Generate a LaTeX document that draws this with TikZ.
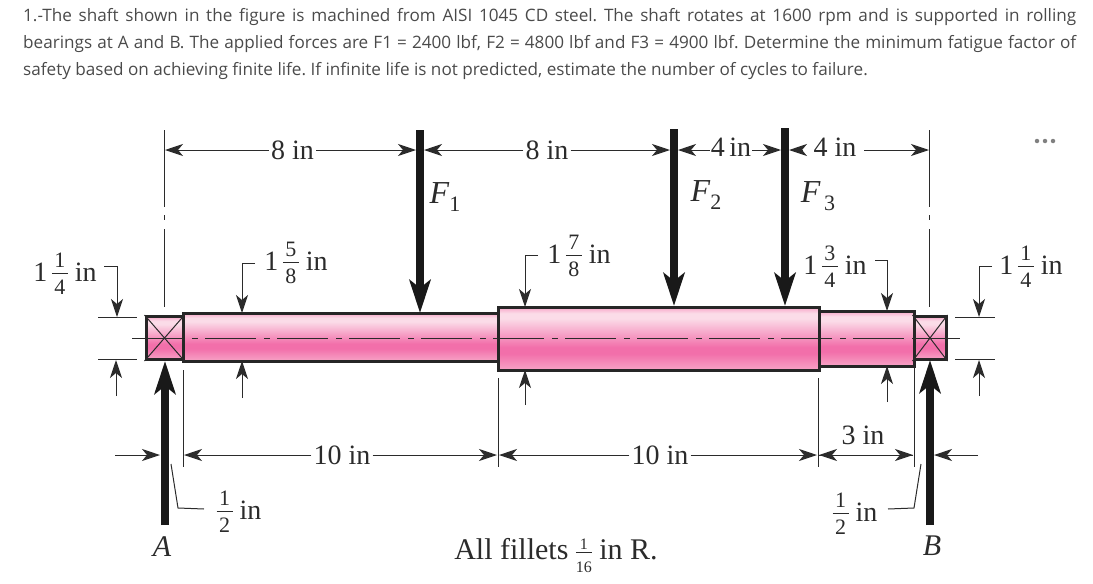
\documentclass[tikz,border=0pt]{standalone}
\usepackage{fontspec}
\setmainfont{Liberation Serif}
\newfontfamily\headfont{Open Sans}
\usetikzlibrary{arrows.meta}
\definecolor{inkgray}{HTML}{2B2B2B}
\definecolor{headgray}{HTML}{4A4A4A}
\definecolor{shafta}{HTML}{F7A3C6}
\definecolor{shaftb}{HTML}{FBDCE8}
\definecolor{shaftc}{HTML}{F26FAA}
\pgfdeclareverticalshading{shaftshade}{100bp}{color(0bp)=(shafta); color(25bp)=(shafta); color(38bp)=(shaftc); color(43bp)=(shaftc); color(66bp)=(shaftb); color(70bp)=(shaftb); color(75bp)=(shafta); color(100bp)=(shafta)}
\newcommand{\shaftfrac}[2]{{\fontsize{22}{22}\selectfont\makebox[16pt]{\rule[8pt]{16pt}{0.9pt}\hspace{-16pt}\makebox[16pt]{\raisebox{14pt}{#1}}\hspace{-16pt}\makebox[16pt]{\raisebox{-13pt}{#2}}}}}
\newcommand{\fillfrac}[2]{{\fontsize{16}{16}\selectfont\makebox[16pt]{\rule[7pt]{16pt}{0.8pt}\hspace{-16pt}\makebox[16pt]{\raisebox{10pt}{#1}}\hspace{-16pt}\makebox[16pt]{\raisebox{-13pt}{#2}}}}}
\newcommand{\headline}[1]{\makebox[1053pt][s]{#1}}
\newcommand{\forcelabel}[2]{\textit{#1}{\fontsize{22}{22}\selectfont\raisebox{-8pt}{#2}}}
\tikzset{
  dimtext/.style={font=\fontsize{28}{30}\selectfont,text=inkgray,inner sep=2pt,text height=19pt,text depth=0pt},
  fractext/.style={font=\fontsize{28}{30}\selectfont,text=inkgray,inner sep=0pt},
  notetext/.style={font=\fontsize{30}{32}\selectfont,text=inkgray,inner sep=0pt},
  forcetext/.style={font=\fontsize{32}{34}\selectfont,text=inkgray,inner sep=0pt},
  pointtext/.style={font=\fontsize{30}{32}\selectfont\itshape,text=inkgray,inner sep=0pt},
  headtext/.style={font=\headfont\frenchspacing\fontsize{17.12}{19}\selectfont,text=headgray,inner sep=0pt,anchor=west},
  dimline/.style={draw=inkgray,line width=1pt},
  dimarrow/.style={dimline,-{Stealth[length=18pt,width=12pt,inset=5pt]}},
  forcearrow/.style={draw=black!90,line width=8pt,-{Stealth[length=33pt,width=21pt,inset=8pt]}},
  shaftpart/.style={draw=black!85,line width=3pt,shading=shaftshade,inner sep=0pt},
}
\begin{document}
\begin{tikzpicture}[x=1pt,y=-1pt]
  \useasboundingbox (0,0) rectangle (1093,584);
  \node[headtext](l1) at (23,17.5) {\headline{1.-The shaft shown in the figure is machined from AISI 1045 CD steel. The shaft rotates at 1600 rpm and is supported in rolling}};
  \node[headtext](l2) at (23,44.5) {\headline{bearings at A and B. The applied forces are F1 = 2400 lbf, F2 = 4800 lbf and F3 = 4900 lbf. Determine the minimum fatigue factor of}};
  \node[headtext](l3) at (23,71.5) {safety based on achieving finite life. If infinite life is not predicted, estimate the number of cycles to failure.};
  \foreach \i/\x in {1/1037,2/1045,3/1053}
    \node[circle,fill=gray,inner sep=0pt,minimum size=4.5pt](dot\i) at (\x,141) {};

  % shaft
  \node[shaftpart,minimum width=37pt,minimum height=43pt](ba) at (164.5,338) {};
  \node[shaftpart,minimum width=32pt,minimum height=43pt](bb) at (930,338) {};
  \node[shaftpart,minimum width=315pt,minimum height=48pt](sa) at (340.5,337) {};
  \node[shaftpart,minimum width=321pt,minimum height=63pt](sb) at (658.5,338.5) {};
  \node[shaftpart,minimum width=95pt,minimum height=55pt](sc) at (866.5,338.5) {};
  \draw[inkgray,line width=1pt](ba.north west)--(ba.south east);
  \draw[inkgray,line width=1pt](ba.south west)--(ba.north east);
  \draw[inkgray,line width=1pt](bb.north west)--(bb.south east);
  \draw[inkgray,line width=1pt](bb.south west)--(bb.north east);

  % center line
  \coordinate(cl) at (132,338);
  \coordinate(cm) at (183,338);
  \coordinate(cn) at (192,338);
  \coordinate(co) at (914,338);
  \coordinate(cp) at (960,338);
  \draw[dimline](cl)--(cm);
  \draw[dimline,dash pattern=on 6pt off 7pt on 51pt off 8pt](cn)--(co);
  \draw[dimline](co)--(cp);

  % forces
  \coordinate(fa) at (420,130);
  \coordinate(fat) at (420,313);
  \coordinate(fb) at (674,129);
  \coordinate(fbt) at (674,306);
  \coordinate(fc) at (785,128);
  \coordinate(fct) at (785,306);
  \coordinate(ra) at (165,525);
  \coordinate(rat) at (165,361);
  \coordinate(rb) at (930,525);
  \coordinate(rbt) at (930,360);
  \draw[forcearrow](fa)--(fat);
  \draw[forcearrow](fb)--(fbt);
  \draw[forcearrow](fc)--(fct);
  \draw[forcearrow](ra)--(rat);
  \draw[forcearrow](rb)--(rbt);
  \node[forcetext](fla) at (445,197) {\forcelabel{F}{1}};
  \node[forcetext](flb) at (706,195) {\forcelabel{F}{2}};
  \node[forcetext,inner sep=0pt](flc) at (818,196) {\forcelabel{F}{\,3}};
  \node[pointtext](A) at (162,547) {A};
  \node[pointtext](B) at (932,546) {B};

  % top dimensions
  \coordinate(ta) at (164,130);
  \coordinate(tab) at (164,307);
  \coordinate(tb) at (929.5,130);
  \coordinate(tbb) at (929.5,307);
  \draw[dimline,dash pattern=on 77pt off 8pt on 5pt off 9pt on 78pt](ta)--(tab);
  \draw[dimline,dash pattern=on 77pt off 8pt on 5pt off 9pt on 78pt](tb)--(tbb);
  \node[dimtext](d1) at (292.5,150) {8 in};
  \coordinate(d1l) at (165,150);
  \coordinate(d1r) at (416,150);
  \draw[dimarrow](d1)--(d1l);
  \draw[dimarrow](d1)--(d1r);
  \node[dimtext](d2) at (547,150) {8 in};
  \coordinate(d2l) at (424,150);
  \coordinate(d2r) at (670,150);
  \draw[dimarrow](d2)--(d2l);
  \draw[dimarrow](d2)--(d2r);
  \node[dimtext,inner sep=1pt,text depth=7pt](d3) at (731,150) {4\,in};
  \coordinate(d3l) at (678,150);
  \coordinate(d3r) at (781,150);
  \draw[dimarrow](d3)--(d3l);
  \draw[dimarrow](d3)--(d3r);
  \node[dimtext,inner sep=1pt](d4) at (835,147) {4 in};
  \coordinate(d4a) at (864,150);
  \coordinate(d4l) at (803,150);
  \coordinate(d4m) at (789,150);
  \coordinate(d4r) at (929,150);
  \draw[dimarrow](d4l)--(d4m);
  \draw[dimarrow](d4a)--(d4r);

  % diameters
  \node[fractext](e1) at (65,274) {1\,\shaftfrac{1}{4} in};
  \coordinate(e1a) at (104,266);
  \coordinate(e1b) at (117,266);
  \coordinate(e1c) at (117,317);
  \draw[dimarrow](e1a)--(e1b)--(e1c);
  \node[fractext](e2) at (296,263) {1\,\shaftfrac{5}{8} in};
  \coordinate(e2a) at (255,263);
  \coordinate(e2b) at (242,263);
  \coordinate(e2c) at (242,313);
  \draw[dimarrow](e2a)--(e2b)--(e2c);
  \node[fractext](e3) at (579,256) {1\,\shaftfrac{7}{8} in};
  \coordinate(e3a) at (538,255);
  \coordinate(e3b) at (525,255);
  \coordinate(e3c) at (525,307);
  \draw[dimarrow](e3a)--(e3b)--(e3c);
  \node[fractext](e4) at (835,267) {1\,\shaftfrac{3}{4} in};
  \coordinate(e4a) at (875,260);
  \coordinate(e4b) at (887,260);
  \coordinate(e4c) at (887,311);
  \draw[dimarrow](e4a)--(e4b)--(e4c);
  \node[fractext](e5) at (1031,267) {1\,\shaftfrac{1}{4} in};
  \coordinate(e5a) at (992,266);
  \coordinate(e5b) at (979,266);
  \coordinate(e5c) at (979,317);
  \draw[dimarrow](e5a)--(e5b)--(e5c);

  % arrows from below
  \coordinate(u1) at (116,396);
  \coordinate(u1t) at (116,360);
  \coordinate(u2) at (242,398);
  \coordinate(u2t) at (242,361);
  \coordinate(u3) at (525,405);
  \coordinate(u3t) at (525,370);
  \coordinate(u4) at (887,402);
  \coordinate(u4t) at (887,366);
  \coordinate(u5) at (979,396);
  \coordinate(u5t) at (979,360);
  \draw[dimarrow](u1)--(u1t);
  \draw[dimarrow](u2)--(u2t);
  \draw[dimarrow](u3)--(u3t);
  \draw[dimarrow](u4)--(u4t);
  \draw[dimarrow](u5)--(u5t);

  % extension lines at the bearings
  \coordinate(x1) at (98,317);
  \coordinate(x1r) at (137,317);
  \coordinate(x2) at (98,359);
  \coordinate(x2r) at (137,359);
  \coordinate(x3) at (955,317);
  \coordinate(x3r) at (995,317);
  \coordinate(x4) at (955,359);
  \coordinate(x4r) at (995,359);
  \draw[dimline](x1)--(x1r);
  \draw[dimline](x2)--(x2r);
  \draw[dimline](x3)--(x3r);
  \draw[dimline](x4)--(x4r);

  % lower dimensions
  \coordinate(g1) at (183,370);
  \coordinate(g1b) at (183,467);
  \coordinate(g2) at (498,378);
  \coordinate(g2b) at (498,467);
  \coordinate(g3) at (818,378);
  \coordinate(g3b) at (818,467);
  \coordinate(g4) at (914,366);
  \coordinate(g4b) at (914,467);
  \draw[dimline](g1)--(g1b);
  \draw[dimline](g2)--(g2b);
  \draw[dimline](g3)--(g3b);
  \draw[dimline](g4)--(g4b);
  \coordinate(h1) at (115,455);
  \coordinate(h1r) at (160,455);
  \draw[dimarrow](h1)--(h1r);
  \node[dimtext](h2) at (342,455) {10 in};
  \coordinate(h2l) at (184,455);
  \coordinate(h2r) at (497,455);
  \draw[dimarrow](h2)--(h2l);
  \draw[dimarrow](h2)--(h2r);
  \node[dimtext](h3) at (660,455) {10 in};
  \coordinate(h3l) at (499,455);
  \coordinate(h3r) at (817,455);
  \draw[dimarrow](h3)--(h3l);
  \draw[dimarrow](h3)--(h3r);
  \node[dimtext](h4) at (863,435) {3 in};
  \coordinate(h4l) at (819,455);
  \coordinate(h4r) at (913,455);
  \draw[dimarrow](h4l)--(h4r);
  \draw[dimarrow](h4r)--(h4l);
  \coordinate(h5) at (978,455);
  \coordinate(h5r) at (934,455);
  \draw[dimarrow](h5)--(h5r);

  % half inch notes and fillet note
  \node[fractext](n1) at (239,512) {\shaftfrac{1}{2} in};
  \coordinate(n1a) at (171,464);
  \coordinate(n1b) at (178,508);
  \coordinate(n1c) at (204,509);
  \draw[dimline](n1a)--(n1b)--(n1c);
  \node[fractext](n2) at (855,514) {\shaftfrac{1}{2} in};
  \coordinate(n2a) at (921,464);
  \coordinate(n2b) at (914,508);
  \coordinate(n2c) at (888,509);
  \draw[dimline](n2a)--(n2b)--(n2c);
  \node[notetext](n3) at (556,556) {All fillets \fillfrac{1}{16} in R.};
\end{tikzpicture}
\end{document}
